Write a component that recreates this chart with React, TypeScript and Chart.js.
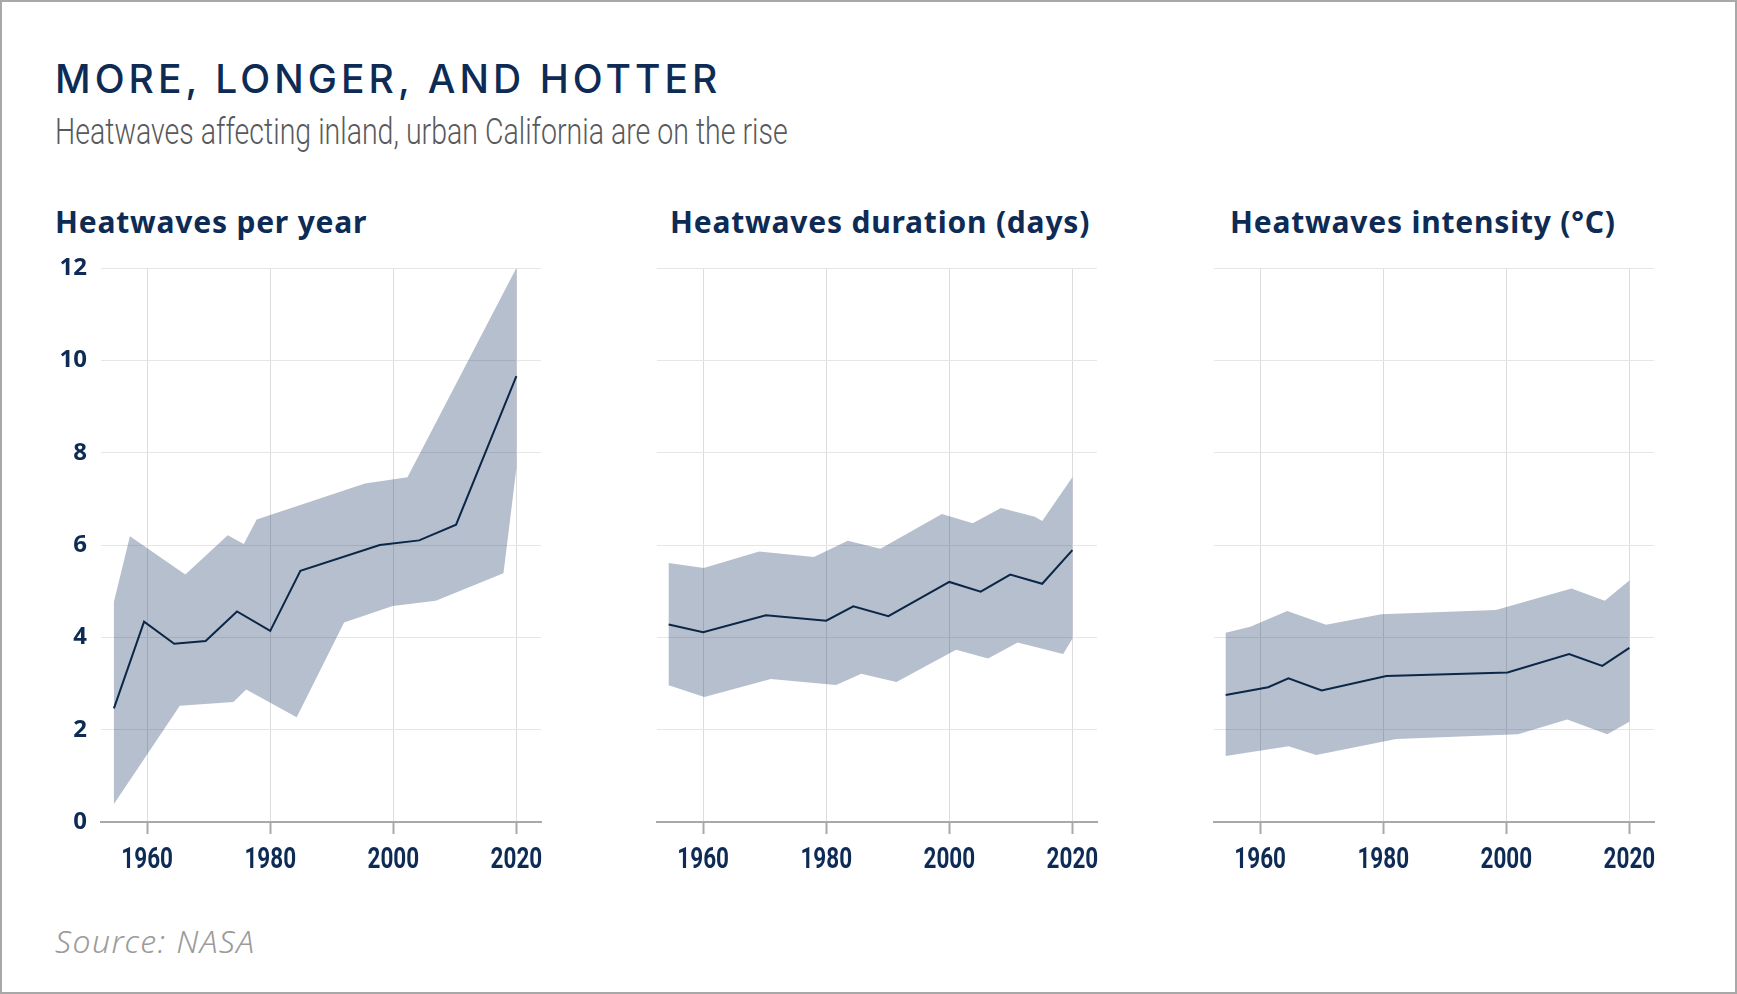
import React, { useEffect, useLayoutEffect, useRef, useState } from "react";
import { Chart, registerables } from "chart.js";

Chart.register(...registerables);

const NAVY = "#0d2b55";
const LINE = "#0c2647";
const BAND = "rgba(25, 55, 100, 0.32)";

// tick labels
const yearTicks = [1960, 1980, 2000, 2020];
const valueTicks = [0, 2, 4, 6, 8, 10, 12];

// Heatwaves per year
const perYearMeanYears = [1954.6, 1959.5, 1964.4, 1969.5, 1974.6, 1980.0, 1984.9, 1997.8, 2004.2, 2010.2, 2020.0];
const perYearMean = [2.46, 4.34, 3.86, 3.92, 4.56, 4.14, 5.44, 6.0, 6.1, 6.44, 9.66];
const perYearUpperYears = [1954.6, 1957.2, 1966.2, 1973.1, 1975.7, 1977.8, 1995.4, 2002.3, 2020.0];
const perYearUpper = [4.77, 6.19, 5.36, 6.21, 6.02, 6.55, 7.33, 7.47, 12.0];
const perYearLowerYears = [1954.6, 1965.3, 1974.0, 1976.1, 1984.3, 1992.0, 1999.9, 2006.9, 2017.9, 2020.0];
const perYearLower = [0.39, 2.52, 2.6, 2.87, 2.27, 4.32, 4.68, 4.79, 5.39, 7.66];

// Heatwaves duration (days)
const durationMeanYears = [1954.4, 1960.0, 1970.2, 1980.0, 1984.4, 1990.1, 2000.0, 2005.1, 2009.9, 2015.1, 2020.0];
const durationMean = [4.28, 4.11, 4.48, 4.36, 4.67, 4.46, 5.2, 4.99, 5.36, 5.16, 5.89];
const durationUpperYears = [1954.4, 1960.1, 1969.1, 1978.0, 1983.5, 1988.8, 1998.8, 2003.8, 2008.4, 2013.9, 2015.1, 2020.0];
const durationUpper = [5.61, 5.5, 5.86, 5.74, 6.09, 5.92, 6.67, 6.47, 6.8, 6.61, 6.52, 7.47];
const durationLowerYears = [1954.4, 1960.2, 1971.0, 1981.6, 1985.7, 1991.4, 2001.1, 2006.3, 2011.1, 2018.5, 2020.0];
const durationLower = [2.96, 2.71, 3.1, 2.97, 3.21, 3.03, 3.73, 3.54, 3.89, 3.64, 3.97];

// Heatwaves intensity (°C)
const intensityMeanYears = [1954.4, 1961.3, 1964.6, 1970.0, 1980.5, 2000.2, 2010.2, 2015.6, 2020.0];
const intensityMean = [2.75, 2.92, 3.11, 2.85, 3.16, 3.24, 3.64, 3.38, 3.77];
const intensityUpperYears = [1954.4, 1958.4, 1964.4, 1970.7, 1979.7, 1998.3, 2010.6, 2016.0, 2020.0];
const intensityUpper = [4.1, 4.23, 4.57, 4.27, 4.5, 4.59, 5.06, 4.79, 5.23];
const intensityLowerYears = [1954.4, 1964.6, 1969.1, 1982.1, 2001.9, 2009.9, 2016.4, 2020.0];
const intensityLower = [1.43, 1.64, 1.45, 1.8, 1.9, 2.22, 1.9, 2.17];

const toPoints = (xs: number[], ys: number[]) => xs.map((x, i) => ({ x, y: ys[i] }));

// year labels in a narrow face: Roboto squeezed horizontally
const condensedYearLabels = {
  id: "condensedYearLabels",
  afterDraw(chart: any) {
    const s = chart.scales.x;
    const ctx = chart.ctx;
    ctx.save();
    ctx.font = "bold 30px Roboto";
    ctx.fillStyle = NAVY;
    ctx.textAlign = "center";
    ctx.textBaseline = "alphabetic";
    s.ticks.forEach((t: any) => {
      ctx.save();
      ctx.translate(s.getPixelForValue(t.value), chart.chartArea.bottom + 46);
      ctx.scale(0.75, 1);
      ctx.fillText(String(t.value), 0, 0);
      ctx.restore();
    });
    ctx.restore();
  },
};

type PanelProps = {
  left: number;
  showY: boolean;
  meanYears: number[];
  mean: number[];
  upperYears: number[];
  upper: number[];
  lowerYears: number[];
  lower: number[];
};

const Panel: React.FC<PanelProps> = (p) => {
  const canvasRef = useRef<HTMLCanvasElement | null>(null);

  useEffect(() => {
    if (!canvasRef.current) return;
    // band = upper edge left->right, then lower edge right->left
    const band = [...toPoints(p.upperYears, p.upper), ...toPoints(p.lowerYears, p.lower).reverse()];
    const chart = new Chart(canvasRef.current, {
      type: "line",
      data: {
        datasets: [
          {
            data: toPoints(p.meanYears, p.mean),
            borderColor: LINE,
            borderWidth: 2,
            pointRadius: 0,
            fill: false,
            tension: 0,
          },
          {
            data: band,
            borderColor: "rgba(0,0,0,0)",
            borderWidth: 0,
            backgroundColor: BAND,
            pointRadius: 0,
            fill: "shape",
            tension: 0,
          },
        ],
      },
      plugins: [condensedYearLabels],
      options: {
        responsive: false,
        animation: false,
        layout: { padding: { top: 20, right: 30, left: 0, bottom: 0 } },
        plugins: { legend: { display: false }, tooltip: { enabled: false } },
        scales: {
          x: {
            type: "linear",
            min: 1952.5,
            max: 2024,
            afterBuildTicks: (s: any) => {
              s.ticks = yearTicks.map((v) => ({ value: v }));
            },
            afterFit: (s: any) => {
              s.height = 70;
              s.paddingLeft = 0;
              s.paddingRight = 0;
            },
            grid: { color: "#dcdcdc", lineWidth: 1, tickLength: 12, tickColor: "#a9a9a9", tickWidth: 2 },
            border: { display: true, color: "#a9a9a9", width: 2 },
            ticks: { display: false },
          },
          y: {
            min: 0,
            max: 12,
            afterBuildTicks: (s: any) => {
              s.ticks = valueTicks.map((v) => ({ value: v }));
            },
            afterFit: (s: any) => {
              s.width = 70;
              s.paddingTop = 0;
              s.paddingBottom = 0;
            },
            grid: { color: "#e6e6e6", lineWidth: 1, drawTicks: false },
            border: { display: false },
            ticks: {
              display: p.showY,
              color: NAVY,
              font: { family: '"Noto Sans"', size: 24, weight: "bold" },
              padding: 14,
            },
          },
        },
      },
    });
    return () => {
      chart.destroy();
    };
  }, [p]);

  // the frame's 2px border offsets absolutely placed children
  return (
    <canvas
      ref={canvasRef}
      width={540}
      height={644}
      style={{ position: "absolute", left: p.left - 72, top: 246, width: 540, height: 644 }}
    />
  );
};

// horizontal squeeze to a target width (condensed subtitle face)
const FitText: React.FC<{ text: string; width: number; style: React.CSSProperties }> = ({ text, width, style }) => {
  const ref = useRef<HTMLSpanElement | null>(null);
  const [sx, setSx] = useState(1);
  useLayoutEffect(() => {
    if (ref.current && ref.current.offsetWidth > 0) setSx(width / ref.current.offsetWidth);
  }, [text, width]);
  return (
    <span
      ref={ref}
      style={{ ...style, display: "inline-block", whiteSpace: "nowrap", transform: `scaleX(${sx})`, transformOrigin: "left top" }}
    >
      {text}
    </span>
  );
};

// letter-spacing chosen so the text spans a target width
const SpacedText: React.FC<{ text: string; width: number; style: React.CSSProperties }> = ({ text, width, style }) => {
  const ref = useRef<HTMLSpanElement | null>(null);
  const [ls, setLs] = useState(0);
  useLayoutEffect(() => {
    if (ref.current && ref.current.offsetWidth > 0 && ls === 0) {
      setLs((width - ref.current.offsetWidth) / (text.length - 1));
    }
  }, [text, width, ls]);
  return (
    <span ref={ref} style={{ ...style, display: "inline-block", whiteSpace: "nowrap", letterSpacing: ls }}>
      {text}
    </span>
  );
};

const panelTitle: React.CSSProperties = {
  position: "absolute",
  top: 205,
  fontFamily: '"Noto Sans", sans-serif',
  fontWeight: 700,
  fontSize: 30,
  lineHeight: "30px",
  letterSpacing: 0.8,
  color: NAVY,
  whiteSpace: "nowrap",
};

const App: React.FC = () => {
  return (
    <div
      style={{
        position: "absolute",
        left: 0,
        top: 0,
        width: 1737,
        height: 994,
        background: "#fff",
        border: "2px solid #a8a8a8",
        boxSizing: "border-box",
        overflow: "hidden",
      }}
    >
      <div style={{ position: "absolute", left: 53, top: 57 }}>
        <SpacedText
          text="MORE, LONGER, AND HOTTER"
          width={662}
          style={{ fontFamily: "Inter, sans-serif", fontWeight: 500, fontSize: 39, lineHeight: "39px", color: NAVY }}
        />
      </div>
      <div style={{ position: "absolute", left: 53, top: 112 }}>
        <FitText
          text="Heatwaves affecting inland, urban California are on the rise"
          width={733}
          style={{ fontFamily: "Roboto, sans-serif", fontWeight: 300, fontSize: 36, lineHeight: "36px", color: "#58595b" }}
        />
      </div>
      <div style={{ ...panelTitle, left: 53 }}>Heatwaves per year</div>
      <div style={{ ...panelTitle, left: 668 }}>Heatwaves duration (days)</div>
      <div style={{ ...panelTitle, left: 1228 }}>Heatwaves intensity (°C)</div>

      <Panel
        left={101}
        showY={true}
        meanYears={perYearMeanYears}
        mean={perYearMean}
        upperYears={perYearUpperYears}
        upper={perYearUpper}
        lowerYears={perYearLowerYears}
        lower={perYearLower}
      />
      <Panel
        left={657}
        showY={false}
        meanYears={durationMeanYears}
        mean={durationMean}
        upperYears={durationUpperYears}
        upper={durationUpper}
        lowerYears={durationLowerYears}
        lower={durationLower}
      />
      <Panel
        left={1214}
        showY={false}
        meanYears={intensityMeanYears}
        mean={intensityMean}
        upperYears={intensityUpperYears}
        upper={intensityUpper}
        lowerYears={intensityLowerYears}
        lower={intensityLower}
      />

      <div
        style={{
          position: "absolute",
          left: 53,
          top: 923,
          fontFamily: '"Noto Sans", sans-serif',
          fontStyle: "italic",
          fontWeight: 300,
          fontSize: 32,
          lineHeight: "32px",
          letterSpacing: 1.4,
          color: "#9b9b9b",
          whiteSpace: "nowrap",
        }}
      >
        Source: NASA
      </div>
    </div>
  );
};

export default App;
